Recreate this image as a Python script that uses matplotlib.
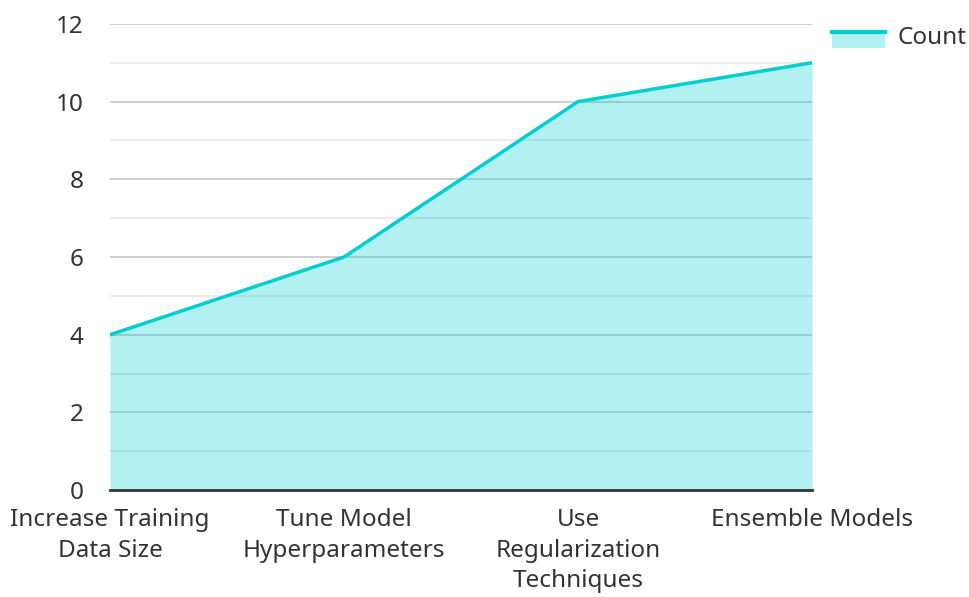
import numpy as np
import matplotlib.pyplot as plt
from matplotlib.patches import Rectangle
from matplotlib.lines import Line2D

plt.rcParams['font.family'] = ['Noto Sans', 'DejaVu Sans']

categories = ["Increase Training\nData Size", "Tune Model\nHyperparameters",
              "Use\nRegularization\nTechniques", "Ensemble Models"]
counts = [4, 6, 10, 11]

line_color = "#00CED1"
text_color = "#333333"


class AreaHandler:
    # filled box with the line along its top edge
    def legend_artist(self, legend, orig_handle, fontsize, handlebox):
        x0, y0 = handlebox.xdescent, handlebox.ydescent
        w, h = handlebox.width, handlebox.height
        rect = Rectangle((x0, y0 - 0.25 * h), w, 0.95 * h, facecolor=line_color, alpha=0.3,
                         linewidth=0, transform=handlebox.get_transform())
        ln = Line2D([x0, x0 + w], [y0 + 0.7 * h, y0 + 0.7 * h], color=line_color,
                    linewidth=3, transform=handlebox.get_transform())
        handlebox.add_artist(rect)
        handlebox.add_artist(ln)
        return rect


fig = plt.figure(figsize=(9.69, 5.97), dpi=100)
ax = fig.add_axes([0.1135, 0.179, 0.7245, 0.781])

x = np.arange(len(categories))
area = ax.fill_between(x, counts, 0, color=line_color, alpha=0.3, linewidth=0, zorder=2)
ax.plot(x, counts, color=line_color, linewidth=2.5, zorder=3)

ax.set_xlim(0, len(categories) - 1)
ax.set_ylim(0, 12)
ax.set_yticks(np.arange(0, 13, 2))
ax.set_yticks(np.arange(1, 13, 2), minor=True)
ax.set_xticks(x)
ax.set_xticklabels(categories, fontsize=17.5, color=text_color, linespacing=1.36)
ax.tick_params(axis='y', which='major', labelsize=17.5, labelcolor=text_color, length=0, pad=19)
ax.tick_params(axis='y', which='minor', length=0)
ax.tick_params(axis='x', length=0, pad=13)

ax.set_axisbelow(True)
ax.grid(axis='y', which='major', color='#c8c8c8', linewidth=1.2)
ax.grid(axis='y', which='minor', color='#e8e8e8', linewidth=1.2)

for s in ['top', 'right', 'left']:
    ax.spines[s].set_visible(False)
ax.spines['bottom'].set_color(text_color)
ax.spines['bottom'].set_linewidth(2)
ax.spines['bottom'].set_zorder(4)

leg = fig.legend([area], ["Count"], loc='upper right', bbox_to_anchor=(1.02, 0.993),
                 frameon=False, fontsize=17.5, handlelength=2.2, handletextpad=0.5,
                 labelcolor=text_color, handler_map={area: AreaHandler()})

fig.savefig("out.png", dpi=100)
